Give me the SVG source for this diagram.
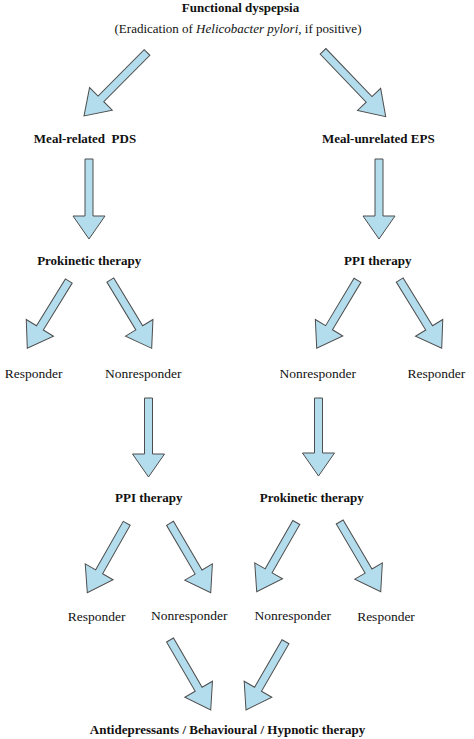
<svg xmlns="http://www.w3.org/2000/svg" width="474" height="739" viewBox="0 0 474 739">
<style>
  .arr { fill: #b3dcec; stroke: #4d4d4d; stroke-width: 1; stroke-linejoin: miter; }
  .b { font-family: "Liberation Serif", "Times New Roman", serif; font-weight: bold; font-size: 13px; fill: #111; text-anchor: middle; }
  .r { font-family: "Liberation Serif", "Times New Roman", serif; font-size: 13.5px; fill: #111; text-anchor: middle; }
  .t { font-family: "Liberation Serif", "Times New Roman", serif; font-size: 13px; fill: #111; text-anchor: middle; }
</style>
<rect width="474" height="739" fill="#ffffff"/>
<g id="connectors">
  <path class="arr" transform="translate(147,52.5) rotate(44.8)" d="M-4,0 L4,0 L4,65.4 L16,65.4 L0,89.4 L-16,65.4 L-4,65.4 Z"/>
  <path class="arr" transform="translate(323,51.3) rotate(-43.8)" d="M-4,0 L4,0 L4,66.6 L16,66.6 L0,90.6 L-16,66.6 L-4,66.6 Z"/>
  <path class="arr" transform="translate(89,159)" d="M-4,0 L4,0 L4,57 L16,57 L0,80 L-16,57 L-4,57 Z"/>
  <path class="arr" transform="translate(379,159)" d="M-4,0 L4,0 L4,57 L16,57 L0,80 L-16,57 L-4,57 Z"/>
  <path class="arr" transform="translate(68.8,281) rotate(31.66)" d="M-4,0 L4,0 L4,55.1 L16,55.1 L0,79.1 L-16,55.1 L-4,55.1 Z"/>
  <path class="arr" transform="translate(110.3,280) rotate(-31.2)" d="M-4,0 L4,0 L4,55.9 L16,55.9 L0,79.9 L-16,55.9 L-4,55.9 Z"/>
  <path class="arr" transform="translate(357.5,280.3) rotate(30.96)" d="M-4,0 L4,0 L4,55.3 L16,55.3 L0,79.3 L-16,55.3 L-4,55.3 Z"/>
  <path class="arr" transform="translate(399.7,280) rotate(-31.59)" d="M-4,0 L4,0 L4,56.2 L16,56.2 L0,80.2 L-16,56.2 L-4,56.2 Z"/>
  <path class="arr" transform="translate(148.5,398)" d="M-4,0 L4,0 L4,56 L16,56 L0,79 L-16,56 L-4,56 Z"/>
  <path class="arr" transform="translate(318.5,398)" d="M-4,0 L4,0 L4,55 L16,55 L0,78 L-16,55 L-4,55 Z"/>
  <path class="arr" transform="translate(126.7,523.3) rotate(29.58)" d="M-4,0 L4,0 L4,55.8 L16,55.8 L0,79.8 L-16,55.8 L-4,55.8 Z"/>
  <path class="arr" transform="translate(170,523.3) rotate(-30.39)" d="M-4,0 L4,0 L4,56.5 L16,56.5 L0,80.5 L-16,56.5 L-4,56.5 Z"/>
  <path class="arr" transform="translate(296.3,522.5) rotate(29.78)" d="M-4,0 L4,0 L4,55.7 L16,55.7 L0,79.7 L-16,55.7 L-4,55.7 Z"/>
  <path class="arr" transform="translate(339.7,522) rotate(-30.47)" d="M-4,0 L4,0 L4,56.9 L16,56.9 L0,80.9 L-16,56.9 L-4,56.9 Z"/>
  <path class="arr" transform="translate(170,640) rotate(-30.18)" d="M-4,0 L4,0 L4,57 L16,57 L0,81 L-16,57 L-4,57 Z"/>
  <path class="arr" transform="translate(285.5,641.7) rotate(30.04)" d="M-4,0 L4,0 L4,54.9 L16,54.9 L0,78.9 L-16,54.9 L-4,54.9 Z"/>
</g>
<g id="n-fd">
  <text class="b" x="240.5" y="11.5">Functional dyspepsia</text>
  <text class="t" x="238" y="33">(Eradication of <tspan font-style="italic">Helicobacter pylori</tspan>, if positive)</text>
</g>
<g id="n-pds"><text class="b" x="85" y="142.5" xml:space="preserve">Meal-related  PDS</text></g>
<g id="n-eps"><text class="b" x="378.3" y="142.5">Meal-unrelated EPS</text></g>
<g id="n-prok1"><text class="b" x="89.2" y="265">Prokinetic therapy</text></g>
<g id="n-ppi1"><text class="b" x="377.8" y="265">PPI therapy</text></g>
<g id="n-resp1"><text class="r" x="33.7" y="378.3">Responder</text></g>
<g id="n-nonresp1"><text class="r" x="143.3" y="378.3">Nonresponder</text></g>
<g id="n-nonresp2"><text class="r" x="317.7" y="378.3">Nonresponder</text></g>
<g id="n-resp2"><text class="r" x="436.3" y="378.3">Responder</text></g>
<g id="n-ppi2"><text class="b" x="148.8" y="501.7">PPI therapy</text></g>
<g id="n-prok2"><text class="b" x="311.8" y="501.7">Prokinetic therapy</text></g>
<g id="n-resp3"><text class="r" x="96.7" y="620.7">Responder</text></g>
<g id="n-nonresp3"><text class="r" x="189.2" y="620">Nonresponder</text></g>
<g id="n-nonresp4"><text class="r" x="292.7" y="619.5">Nonresponder</text></g>
<g id="n-resp4"><text class="r" x="386" y="621">Responder</text></g>
<g id="n-final"><text class="b" x="227.5" y="734.3">Antidepressants / Behavioural / Hypnotic therapy</text></g>
</svg>
